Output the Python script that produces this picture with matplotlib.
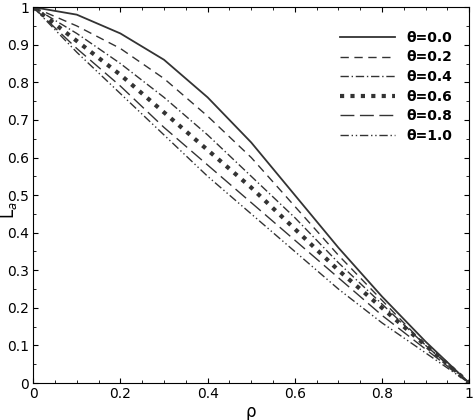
import matplotlib
matplotlib.use("Agg")
import matplotlib.pyplot as plt
from matplotlib.ticker import MultipleLocator

rho = [0, 0.1, 0.2, 0.3, 0.4, 0.5, 0.6, 0.7, 0.8, 0.9, 1.0]
La_00 = [1, 0.98, 0.93, 0.86, 0.76, 0.64, 0.50, 0.36, 0.23, 0.11, 0]
La_02 = [1, 0.95, 0.89, 0.81, 0.71, 0.60, 0.47, 0.34, 0.22, 0.10, 0]
La_04 = [1, 0.93, 0.85, 0.76, 0.66, 0.55, 0.44, 0.32, 0.21, 0.10, 0]
La_06 = [1, 0.91, 0.82, 0.72, 0.62, 0.52, 0.41, 0.30, 0.20, 0.10, 0]
La_08 = [1, 0.89, 0.79, 0.68, 0.58, 0.48, 0.38, 0.28, 0.18, 0.09, 0]
La_10 = [1, 0.88, 0.77, 0.66, 0.55, 0.45, 0.35, 0.25, 0.16, 0.08, 0]
labels = ["θ=0.0", "θ=0.2", "θ=0.4", "θ=0.6", "θ=0.8", "θ=1.0"]
xtick_vals = [0, 0.2, 0.4, 0.6, 0.8, 1.0]
xtick_labels = ["0", "0.2", "0.4", "0.6", "0.8", "1"]
ytick_vals = [0, 0.1, 0.2, 0.3, 0.4, 0.5, 0.6, 0.7, 0.8, 0.9, 1.0]
ytick_labels = ["0", "0.1", "0.2", "0.3", "0.4", "0.5", "0.6", "0.7", "0.8", "0.9", "1"]

fig = plt.figure(figsize=(4.74, 4.2), dpi=100)
ax = fig.add_axes([0.07, 0.088, 0.92, 0.895])
styles = [dict(ls="-", lw=1.3),
          dict(ls=(0, (6, 4)), lw=1.0),
          dict(ls=(0, (6, 2, 1, 2)), lw=1.0),
          dict(ls=(0, (1, 1.5)), lw=3.0),
          dict(ls=(0, (10, 4)), lw=1.0),
          dict(ls=(0, (6, 2, 1, 2, 1, 2)), lw=1.0)]
for ys, lab, st in zip([La_00, La_02, La_04, La_06, La_08, La_10], labels, styles):
    ax.plot(rho, ys, color="#333333", label=lab, **st)
ax.set_xlim(0, 1)
ax.set_ylim(0, 1)
ax.set_xticks(xtick_vals)
ax.set_xticklabels(xtick_labels)
ax.set_yticks(ytick_vals)
ax.set_yticklabels(ytick_labels)
ax.xaxis.set_minor_locator(MultipleLocator(0.05))
ax.yaxis.set_minor_locator(MultipleLocator(0.05))
ax.tick_params(which="both", direction="in", top=True, right=True, labelsize=10, pad=3)
ax.set_xlabel("ρ", fontsize=12, labelpad=1)
fig.text(0.018, 0.5, "L$_a$", fontsize=12, rotation=90, va="center", ha="center")
ax.legend(loc="upper right", frameon=False, handlelength=4,
          labelspacing=0.4, prop={"weight": "bold", "size": 10},
          bbox_to_anchor=(0.99, 0.97))
fig.savefig("out.png", dpi=100)
